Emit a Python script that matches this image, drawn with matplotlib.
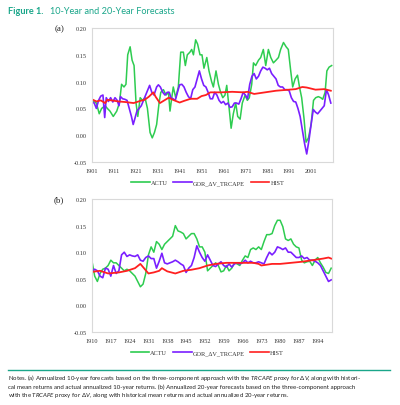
import matplotlib
matplotlib.use("Agg")
import matplotlib.pyplot as plt
from matplotlib.lines import Line2D

# ---------------- data: panel (a) 10-year ----------------
a_actu_years = [1901, 1903, 1904.3, 1905.4, 1907, 1908, 1909.2, 1910.7, 1912.3, 1913.5, 1914.5, 1915.6,
                1916.5, 1917.3, 1918.4, 1919.3, 1920.2, 1921.1, 1921.9, 1923, 1924.1, 1925.2, 1926.3,
                1927.5, 1928.5, 1929.5, 1930.5, 1931.6, 1932.4, 1933.6, 1934.8, 1935.9, 1936.6, 1937.4,
                1938.1, 1939.2, 1940.4, 1941.5, 1942.7, 1943.6, 1944.5, 1945.7, 1946.5, 1947.3, 1948.3,
                1949.2, 1950.3, 1951.2, 1952.1, 1953.4, 1954.4, 1955.6, 1956.4, 1957.6, 1958.7, 1959.7,
                1960.7, 1961.7, 1962.5, 1963.6, 1964.5, 1965.5, 1966.6, 1967.5, 1968.6, 1969.6, 1970.9,
                1971.9, 1972.8, 1973.9, 1974.7, 1975.7, 1977, 1978, 1979.2, 1980.3, 1981.5, 1982.6,
                1983.8, 1985, 1986.1, 1987.1, 1988.4, 1989.6, 1990.6, 1991.7, 1992.6, 1993.7, 1994.8,
                1995.7, 1996.7, 1997.8, 1998.7, 1999.8, 2001, 2002.1, 2003.1, 2004.3, 2005.4, 2006.3,
                2007.4, 2008.2, 2009.2, 2010.4]
a_actu = [0.065, 0.060, 0.040, 0.050, 0.055, 0.050, 0.045, 0.035, 0.045, 0.060, 0.095, 0.090,
          0.095, 0.150, 0.165, 0.140, 0.130, 0.060, 0.035, 0.070, 0.065, 0.070, 0.050,
          0.005, -0.005, 0.005, 0.020, 0.060, 0.080, 0.085, 0.075, 0.080, 0.045, 0.070,
          0.090, 0.070, 0.090, 0.155, 0.155, 0.130, 0.150, 0.155, 0.160, 0.150, 0.178,
          0.170, 0.150, 0.150, 0.125, 0.145, 0.120, 0.100, 0.090, 0.120, 0.095, 0.080,
          0.070, 0.075, 0.093, 0.050, 0.013, 0.040, 0.060, 0.035, 0.030, 0.060, 0.075,
          0.065, 0.070, 0.095, 0.135, 0.130, 0.140, 0.145, 0.160, 0.130, 0.160, 0.145,
          0.135, 0.140, 0.145, 0.160, 0.173, 0.165, 0.160, 0.120, 0.090, 0.105, 0.112,
          0.090, 0.070, 0.030, -0.013, -0.005, 0.020, 0.065, 0.070, 0.072, 0.070, 0.067,
          0.080, 0.120, 0.127, 0.130]

a_gor_years = [1901, 1902, 1903, 1904, 1905, 1906, 1906.8, 1907.5, 1908.5, 1909.5, 1910.5, 1911.5,
               1912.5, 1913.3, 1914, 1915, 1916, 1917, 1918, 1919, 1919.8, 1920.5, 1921.5, 1922.5,
               1923.5, 1924.5, 1925.5, 1926.5, 1927.3, 1928.3, 1929.3, 1930.5, 1931.3, 1932.2,
               1933.3, 1934.3, 1935.3, 1936.3, 1937, 1938, 1939, 1940, 1941, 1942, 1943, 1944,
               1945, 1946, 1947, 1948, 1949, 1950, 1951, 1952, 1953, 1954, 1955, 1956, 1957,
               1958, 1959, 1960, 1961, 1962, 1963, 1964, 1965, 1966, 1967, 1968, 1969, 1970,
               1971, 1972, 1973, 1974, 1975, 1976, 1977, 1978, 1979, 1980, 1981, 1982, 1983,
               1984, 1985, 1986, 1987, 1988, 1989, 1990, 1991, 1992, 1993, 1994, 1995, 1996,
               1997, 1998, 1999, 2000, 2001, 2002, 2003, 2004, 2005, 2006, 2007, 2008, 2009, 2010]
a_gor = [0.062, 0.060, 0.050, 0.065, 0.073, 0.075, 0.033, 0.070, 0.063, 0.070, 0.062, 0.070,
         0.065, 0.055, 0.072, 0.068, 0.067, 0.065, 0.050, 0.035, 0.020, 0.030, 0.045, 0.050,
         0.055, 0.065, 0.075, 0.085, 0.093, 0.080, 0.075, 0.090, 0.094, 0.090,
         0.080, 0.075, 0.080, 0.080, 0.070, 0.068, 0.065, 0.080, 0.094, 0.095, 0.090, 0.080,
         0.072, 0.068, 0.085, 0.090, 0.105, 0.120, 0.105, 0.093, 0.090, 0.080, 0.068, 0.068, 0.080,
         0.075, 0.065, 0.060, 0.063, 0.057, 0.060, 0.052, 0.053, 0.060, 0.060, 0.058, 0.068, 0.080,
         0.075, 0.068, 0.095, 0.110, 0.115, 0.105, 0.110, 0.120, 0.127, 0.125, 0.122, 0.125, 0.115,
         0.110, 0.105, 0.093, 0.090, 0.090, 0.085, 0.085, 0.083, 0.070, 0.063, 0.062, 0.050, 0.035,
         0.010, -0.015, -0.035, -0.010, 0.020, 0.048, 0.043, 0.040, 0.045, 0.050, 0.055, 0.085, 0.075, 0.060]

a_hist_years = [1901, 1903, 1905, 1907, 1908, 1910, 1913, 1916, 1920, 1923, 1925, 1927, 1929, 1930,
                1932, 1934, 1936, 1938, 1941, 1943, 1946, 1949, 1951, 1953, 1955, 1960, 1965, 1970,
                1972, 1975, 1980, 1985, 1988, 1991, 1994, 1997, 1999, 2001, 2003, 2007, 2010]
a_hist = [0.067, 0.063, 0.065, 0.060, 0.066, 0.065, 0.063, 0.062, 0.060, 0.064, 0.066, 0.072, 0.080, 0.072,
          0.060, 0.065, 0.070, 0.066, 0.061, 0.064, 0.068, 0.068, 0.073, 0.075, 0.080, 0.080, 0.081, 0.080,
          0.081, 0.077, 0.080, 0.083, 0.084, 0.085, 0.086, 0.090, 0.089, 0.087, 0.085, 0.086, 0.083]

# ---------------- data: panel (b) 20-year ----------------
b_years = list(range(1910, 2000))
b_actu = [0.083, 0.055, 0.045, 0.060, 0.068, 0.070, 0.075, 0.085, 0.080, 0.080,
          0.075, 0.070, 0.065, 0.068, 0.065, 0.060, 0.055, 0.045, 0.035, 0.040,
          0.060, 0.095, 0.110, 0.100, 0.120, 0.115, 0.105, 0.115, 0.120, 0.125,
          0.130, 0.150, 0.140, 0.138, 0.135, 0.125, 0.130, 0.135, 0.135, 0.125,
          0.110, 0.110, 0.100, 0.065, 0.070, 0.075, 0.080, 0.075, 0.063, 0.065,
          0.075, 0.065, 0.070, 0.080, 0.078, 0.075, 0.085, 0.093, 0.090, 0.105,
          0.108, 0.105, 0.110, 0.105, 0.120, 0.133, 0.133, 0.135, 0.150, 0.160,
          0.160, 0.148, 0.125, 0.122, 0.125, 0.115, 0.110, 0.108, 0.085, 0.080,
          0.082, 0.083, 0.075, 0.085, 0.090, 0.080, 0.072, 0.062, 0.060, 0.070]
b_gor = [0.065, 0.068, 0.065, 0.055, 0.052, 0.070, 0.068, 0.055, 0.075, 0.060,
         0.065, 0.095, 0.100, 0.092, 0.095, 0.093, 0.092, 0.095, 0.085, 0.083,
         0.090, 0.093, 0.088, 0.088, 0.070, 0.083, 0.098, 0.080, 0.078, 0.080,
         0.082, 0.085, 0.082, 0.078, 0.075, 0.062, 0.070, 0.075, 0.090, 0.112,
         0.100, 0.090, 0.083, 0.095, 0.085, 0.075, 0.073, 0.078, 0.082, 0.075,
         0.072, 0.078, 0.072, 0.078, 0.080, 0.078, 0.080, 0.085, 0.080, 0.083,
         0.080, 0.080, 0.082, 0.080, 0.078, 0.090, 0.100, 0.095, 0.100, 0.110,
         0.108, 0.105, 0.108, 0.100, 0.100, 0.095, 0.090, 0.090, 0.093, 0.088,
         0.090, 0.085, 0.085, 0.083, 0.080, 0.075, 0.065, 0.055, 0.045, 0.048]
b_hist_years = [1910, 1913, 1916, 1920, 1923, 1926, 1928, 1929, 1931, 1933, 1935, 1936, 1938, 1941,
                1944, 1947, 1950, 1953, 1956, 1960, 1966, 1970, 1972, 1973, 1977, 1980, 1984, 1988,
                1992, 1996, 1998, 1999]
b_hist = [0.063, 0.065, 0.060, 0.062, 0.065, 0.070, 0.078, 0.072, 0.060, 0.062, 0.065, 0.070, 0.064, 0.060,
          0.065, 0.067, 0.070, 0.075, 0.078, 0.080, 0.080, 0.080, 0.078, 0.075, 0.078, 0.078, 0.080, 0.082,
          0.085, 0.088, 0.090, 0.088]

series_labels = ["ACTU", "GOR_\u0394V_TRCAPE", "HIST"]
y_ticks = [-0.05, 0.00, 0.05, 0.10, 0.15, 0.20]
a_xticks = list(range(1901, 2002, 10))
b_xticks = list(range(1910, 1995, 7))

GREEN = "#2ecc50"
PURPLE = "#7a1fff"
RED = "#ff2020"
TEAL = "#1aa68a"
SERIF = "Liberation Serif"

fig = plt.figure(figsize=(4.0, 4.06), dpi=100)


def panel(rect, label, actu_x, actu, gor_x, gor, hist_x, hist, xticks, xlim):
    ax = fig.add_axes(rect)
    ax.plot(actu_x, actu, color=GREEN, lw=1.1, solid_joinstyle="round")
    ax.plot(gor_x, gor, color=PURPLE, lw=1.2, solid_joinstyle="round")
    ax.plot(hist_x, hist, color=RED, lw=1.3, solid_joinstyle="round")
    ax.set_xlim(*xlim)
    ax.set_ylim(-0.05, 0.20)
    ax.set_yticks(y_ticks)
    ax.set_yticklabels([f"{v:.2f}" for v in y_ticks])
    ax.set_xticks(xticks)
    ax.set_xticklabels([str(t) for t in xticks])
    ax.tick_params(length=0, labelsize=4.5, pad=4, labelcolor="#333333")
    for lab in ax.get_xticklabels() + ax.get_yticklabels():
        lab.set_fontfamily(SERIF)
    for sp in ax.spines.values():
        sp.set_color("#d9d9d9")
        sp.set_linewidth(0.8)
    ax.text(-0.115, 1.0, label, transform=ax.transAxes, fontsize=6.5, family=SERIF,
            ha="right", va="center", color="#222222")
    handles = [Line2D([0], [0], color=c, lw=1.2) for c in (GREEN, PURPLE, RED)]
    leg = ax.legend(handles, series_labels, loc="upper center", bbox_to_anchor=(0.48, -0.09),
                    ncol=3, frameon=False, prop={"family": SERIF, "size": 4.5},
                    handlelength=3.0, handletextpad=0.15, columnspacing=0.9)
    for t in leg.get_texts():
        t.set_color("#333333")
    return ax


panel([0.23, 0.5985, 0.6025, 0.330], "(a)", a_actu_years, a_actu, a_gor_years, a_gor,
      a_hist_years, a_hist, a_xticks, (1901, 2011))
panel([0.23, 0.1798, 0.6000, 0.3276], "(b)", b_years, b_actu, b_years, b_gor,
      b_hist_years, b_hist, b_xticks, (1910, 1999.3))

# title
fig.text(0.02, 1 - 12 / 406, "Figure 1.", fontsize=6.6, fontweight="bold", family="Lato",
         color=TEAL, ha="left", va="center")
fig.text(0.125, 1 - 12 / 406, "10-Year and 20-Year Forecasts", fontsize=6.6, family="Lato",
         color=TEAL, ha="left", va="center")

# separator line
fig.add_artist(Line2D([0.02, 0.975], [1 - 371 / 406, 1 - 371 / 406], color=TEAL, lw=1.0))

plt.rcParams["mathtext.fontset"] = "custom"
plt.rcParams["mathtext.it"] = "Lato:italic"
plt.rcParams["mathtext.rm"] = "Lato"

notes = [
    "Notes. (a) Annualized 10-year forecasts based on the three-component approach with the $\\it{TRCAPE}$ proxy for \u0394$\\it{V}$, along with histori-",
    "cal mean returns and actual annualized 10-year returns. (b) Annualized 20-year forecasts based on the three-component approach",
    "with the $\\it{TRCAPE}$ proxy for \u0394$\\it{V}$, along with historical mean returns and actual annualized 20-year returns.",
]
for i, line in enumerate(notes):
    fig.text(0.02, 1 - (378.5 + 8.7 * i) / 406, line, fontsize=4.4, family="Lato",
             color="#222222", ha="left", va="center")

fig.savefig("out.png", dpi=100, facecolor="white")
